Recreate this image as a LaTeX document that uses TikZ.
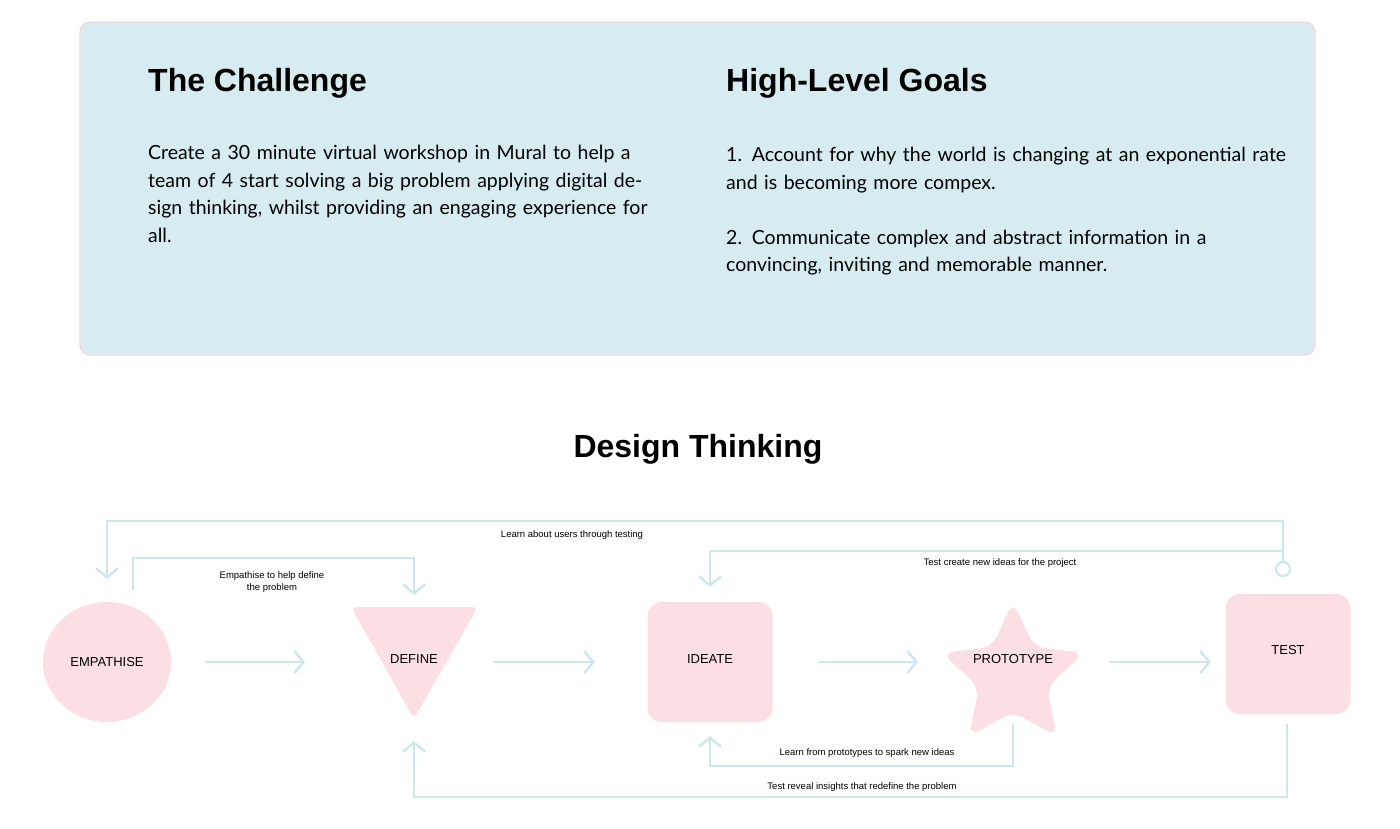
\documentclass[tikz,border=0pt]{standalone}
\usepackage{fontspec}
\setmainfont{Lato}
\newfontfamily\headfont{Liberation Sans}
\usetikzlibrary{arrows.meta,shapes.geometric}
\definecolor{boxblue}{HTML}{D6ECF0}
\definecolor{boxborder}{HTML}{F4D7DC}
\definecolor{pinkfill}{HTML}{FCDFE3}
\definecolor{linec}{HTML}{CDE7EE}
\tikzset{
 flow/.style={draw=linec,line width=2.5pt},
 arr/.style={flow,-{Straight Barb[length=9pt,width=22pt,line width=2.5pt]}},
 shp/.style={fill=pinkfill,draw=none,inner sep=0pt},
 lbl/.style={font=\headfont\fontsize{13}{15}\selectfont},
 small/.style={font=\headfont\fontsize{9.5}{12}\selectfont,align=center},
 body/.style={font=\fontsize{19.5}{27.6}\selectfont,align=left,anchor=north west,inner sep=0pt},
 head/.style={font=\headfont\bfseries\fontsize{32}{36}\selectfont,anchor=west,inner sep=0pt}
}
\begin{document}
\begin{tikzpicture}[x=1pt,y=-1pt]
\useasboundingbox (0,0) rectangle (1400,828);
\draw[fill=boxblue,draw=boxborder,line width=1.2pt,rounded corners=10pt] (80,22) rectangle (1315,355);
\node[head] (h1) at (148,83) {The Challenge};
\node[head] (h2) at (726,83) {High-Level Goals};
\node[body,text width=520pt] (b1) at (148,145) {Create a 30 minute virtual workshop in Mural to help a team of 4 start solving a big problem applying digital design thinking, whilst providing an engaging experience for all.};
\node[body,text width=600pt] (b2) at (726,147) {1. Account for why the world is changing at an exponential rate\\and is becoming more compex.\\[27.6pt]2. Communicate complex and abstract information in a\\convincing, inviting and memorable manner.};
\node[font=\headfont\bfseries\fontsize{32}{36}\selectfont] (dt) at (698,449) {Design Thinking};

\node[shp,ellipse,minimum width=128pt,minimum height=120pt] (emp) at (107,662) {};
\node[lbl] at (emp) {EMPATHISE};
\fill[pinkfill,rounded corners=6pt] (351,607) -- (478,607) -- (414,719) -- cycle;
\coordinate (def) at (414,640);
\node[lbl] (deft) at (414,659) {DEFINE};
\node[shp,rounded corners=14pt,minimum width=125pt,minimum height=120pt] (ide) at (710,662) {};
\node[lbl] at (710,659) {IDEATE};
\node[shp,star,star points=5,star point ratio=2.1,minimum size=150pt,rounded corners=12pt] (pro) at (1013,676) {};
\node[lbl] at (1013,659) {PROTOTYPE};
\node[shp,rounded corners=14pt,minimum width=125pt,minimum height=120pt] (tst) at (1288,654) {};
\node[lbl] at (1288,650) {TEST};

\coordinate (a1s) at (205,662); \coordinate (a1e) at (305,662);
\coordinate (a2s) at (494,662); \coordinate (a2e) at (595,662);
\coordinate (a3s) at (818,662); \coordinate (a3e) at (918,662);
\coordinate (a4s) at (1110,662); \coordinate (a4e) at (1211,662);
\draw[arr] (a1s) -- (a1e);
\draw[arr] (a2s) -- (a2e);
\draw[arr] (a3s) -- (a3e);
\draw[arr] (a4s) -- (a4e);

\node[circle,draw=linec,line width=2.2pt,minimum size=14pt,inner sep=0pt] (tc) at (1283,569) {};
\coordinate (e1) at (107,579);
\draw[arr] (tc.north) -- (1283,521) -- (107,521) -- (e1);
\coordinate (i1) at (710,587);
\draw[arr] (1283,551) -- (710,551) -- (i1);
\coordinate (es) at (133,590); \coordinate (d1) at (414,595);
\draw[arr] (es) -- (133,558) -- (414,558) -- (d1);
\coordinate (ps) at (1013,724); \coordinate (i2) at (710,736);
\draw[arr] (ps) -- (1013,766) -- (710,766) -- (i2);
\coordinate (ts) at (1287,724); \coordinate (d2) at (414,741);
\draw[arr] (ts) -- (1287,797) -- (414,797) -- (d2);

\node[small] (l1) at (572,535) {Learn about users through testing};
\node[small] (l2) at (272,582) {Empathise to help define\\the problem};
\node[small] (l3) at (1000,563) {Test create new ideas for the project};
\node[small] (l4) at (867,753) {Learn from prototypes to spark new ideas};
\node[small] (l5) at (862,787) {Test reveal insights that redefine the problem};
\end{tikzpicture}
\end{document}
